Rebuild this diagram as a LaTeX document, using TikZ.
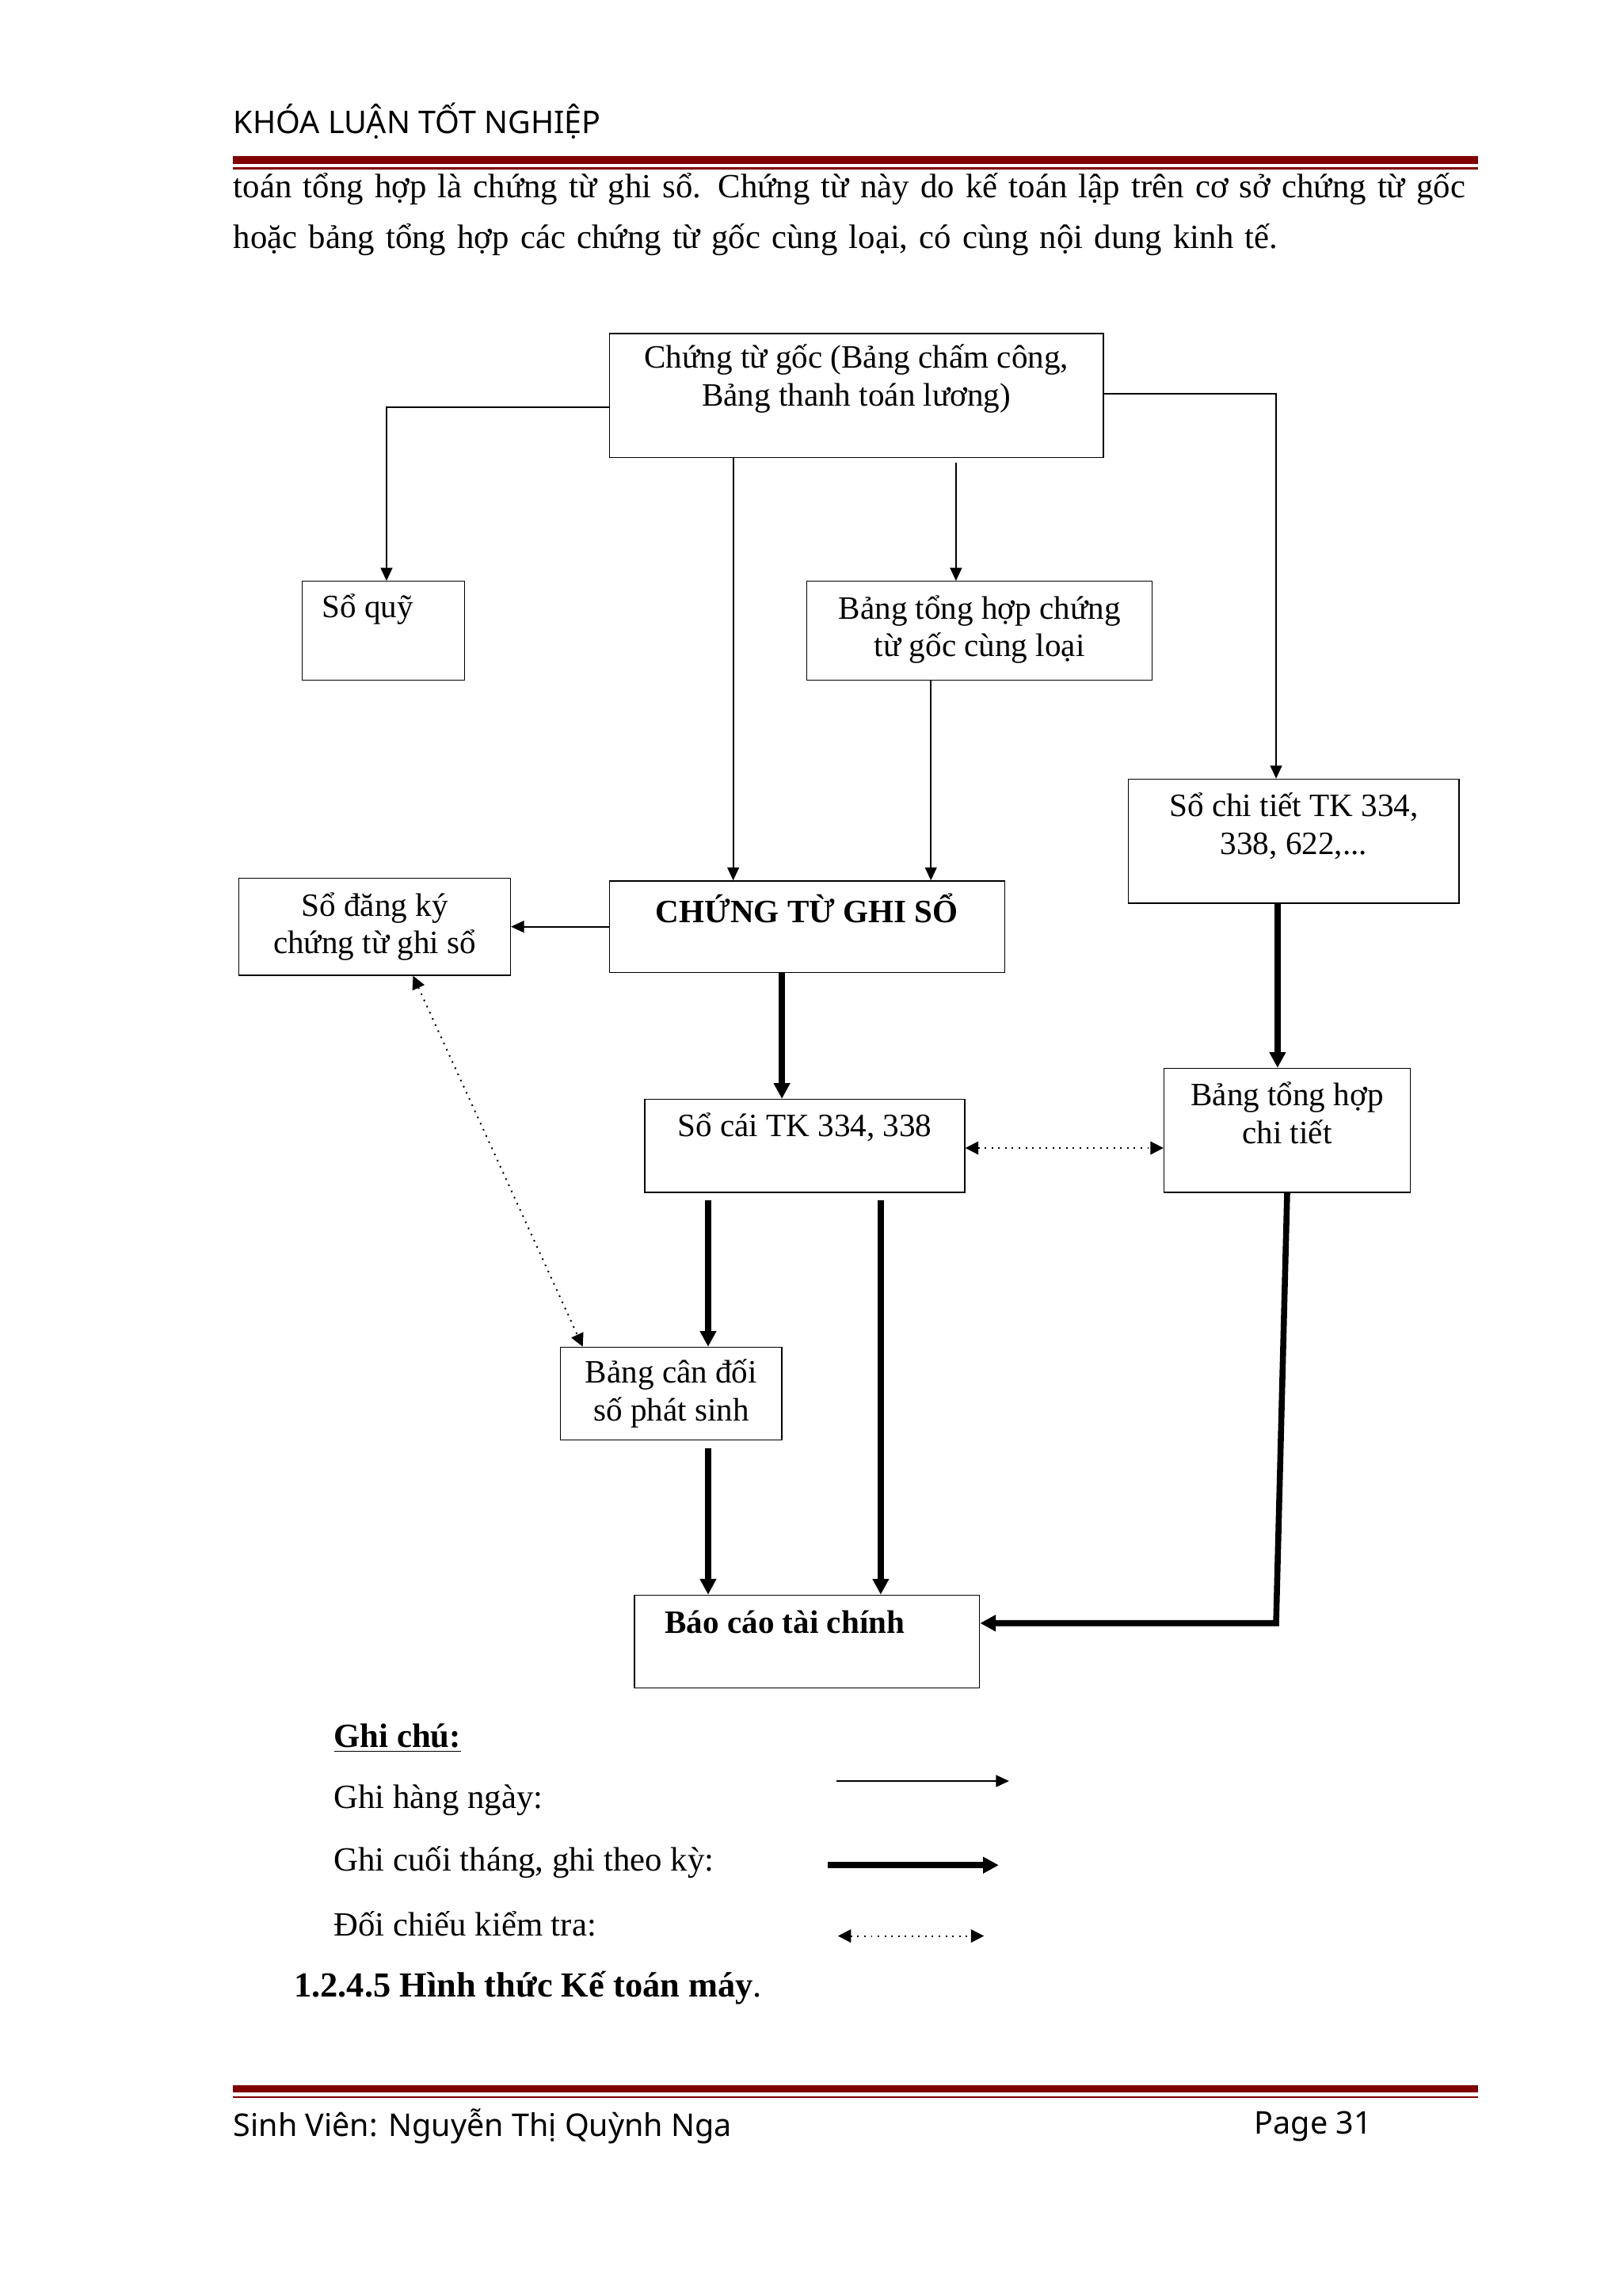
\documentclass[tikz,border=0pt]{standalone}
\usepackage{fontspec}
\setmainfont{Liberation Serif}
\newfontfamily\hdfont{Noto Sans}
\usetikzlibrary{arrows.meta,positioning,calc}
\definecolor{darkred}{RGB}{128,0,0}
\begin{document}
\begin{tikzpicture}[x=0.0199cm,y=-0.0199cm,
	box/.style={draw, thin, rectangle, inner sep=0, font=\fontsize{12.5}{14.5}\selectfont, align=center},
	daily/.style={-{Triangle[length=5pt,width=4.5pt]}, line width=0.6pt},
	period/.style={-{Triangle[length=6pt,width=6pt]}, line width=2.3pt},
	check/.style={{Triangle[length=5pt,width=5pt]}-{Triangle[length=5pt,width=5pt]}, line width=0.6pt, dotted}]
	
	\useasboundingbox (0,0) rectangle (1100,1556);
	
	% Header and text
	\node[anchor=west, inner sep=0, font=\hdfont\fontsize{12}{15}\selectfont] (hd) at (158,82) {KHÓA LUẬN TỐT NGHIỆP};
	\fill[darkred] (158,106) rectangle (1002,111);
	\fill[darkred] (158,113.5) rectangle (1002,115);
	\node[anchor=north west, inner sep=0, text width=844*0.0199cm, font=\fontsize{13}{19.5}\selectfont] (txt) at (158,117)
	{\makebox[\linewidth][s]{toán tổng hợp là chứng từ ghi sổ. Chứng từ này do kế toán lập trên cơ sở chứng từ gốc}\\
	 hoặc bảng tổng hợp các chứng từ gốc cùng loại, có cùng nội dung kinh tế.};
	
	% Boxes
	\node[box, minimum width=335*0.0199cm, minimum height=84*0.0199cm] (goc) at (580.5,268) {};
	\node[box, draw=none, anchor=north] at (580.5,233) {Chứng từ gốc (Bảng chấm công,\\Bảng thanh toán lương)};
	\node[box, minimum width=110*0.0199cm, minimum height=67*0.0199cm] (soquy) at (260,427.5) {};
	\node[anchor=north west, inner sep=0, font=\fontsize{12.5}{14.5}\selectfont] at (218,402) {Sổ quỹ};
	\node[box, minimum width=234*0.0199cm, minimum height=67*0.0199cm] (bangth) at (664,427.5) {};
	\node[anchor=north, inner sep=0, align=center, font=\fontsize{12.5}{14.5}\selectfont] at (664,403) {Bảng tổng hợp chứng\\từ gốc cùng loại};
	\node[box, minimum width=224*0.0199cm, minimum height=84*0.0199cm] (sochitiet) at (877,570) {};
	\node[anchor=north, inner sep=0, align=center, font=\fontsize{12.5}{14.5}\selectfont] at (877,537) {Sổ chi tiết TK 334,\\338, 622,...};
	\node[box, minimum width=268*0.0199cm, minimum height=62*0.0199cm] (ctgs) at (547,628) {};
	\node[anchor=north, inner sep=0, font=\bfseries\fontsize{12.5}{14.5}\selectfont] at (547,605) {CHỨNG TỪ GHI SỔ};
	\node[box, minimum width=184*0.0199cm, minimum height=66*0.0199cm] (sodk) at (254,628) {Sổ đăng ký\\chứng từ ghi sổ};
	\node[box, minimum width=217*0.0199cm, minimum height=63*0.0199cm] (socai) at (545.5,776.5) {};
	\node[anchor=north, inner sep=0, font=\fontsize{12.5}{14.5}\selectfont] at (545.5,754) {Sổ cái TK 334, 338};
	\node[box, minimum width=167*0.0199cm, minimum height=84*0.0199cm] (bangthct) at (872.5,766) {};
	\node[anchor=north, inner sep=0, align=center, font=\fontsize{12.5}{14.5}\selectfont] at (872.5,733) {Bảng tổng hợp\\chi tiết};
	\node[box, minimum width=150*0.0199cm, minimum height=63*0.0199cm] (bcd) at (455,944.5) {Bảng cân đối\\số phát sinh};
	\node[box, minimum width=234*0.0199cm, minimum height=63*0.0199cm] (bctc) at (547,1112.5) {};
	\node[anchor=north, inner sep=0, font=\bfseries\fontsize{12.5}{14.5}\selectfont] at (532,1091) {Báo cáo tài chính};
	
	% Column coordinates
	\coordinate (c262) at (262,0);
	\coordinate (c497) at (497,0);
	\coordinate (c648) at (648,0);
	\coordinate (c865) at (865,0);
	\coordinate (c866) at (866,0);
	\coordinate (c631) at (631,0);
	\coordinate (c530) at (530,0);
	\coordinate (c480) at (480,0);
	\coordinate (c597) at (597,0);
	\coordinate (c280) at (280,0);
	\coordinate (c395) at (395,0);
	\coordinate (r276) at (0,276);
	\coordinate (r267) at (0,267);
	\coordinate (r778) at (0,778);
	\coordinate (r1100) at (0,1100);
	
	% Arrows
	\draw[daily] (goc.west |- r276) -| (soquy.north -| c262);
	\draw[daily] (goc.south -| c497) -- (ctgs.north -| c497);
	\draw[daily] ($(goc.south -| c648)+(0,3)$) -- (bangth.north -| c648);
	\draw[daily] (goc.east |- r267) -| (sochitiet.north -| c865);
	\draw[daily] (bangth.south -| c631) -- (ctgs.north -| c631);
	\draw[daily] (ctgs.west) -- (sodk.east);
	\draw[check] (sodk.south -| c280) -- (bcd.north -| c395);
	\draw[period] (ctgs.south -| c530) -- (socai.north -| c530);
	\draw[period] (sochitiet.south -| c866) -- (bangthct.north -| c866);
	\draw[check] (socai.east |- r778) -- (bangthct.west |- r778);
	\draw[period] ($(socai.south -| c480)+(0,5)$) -- (bcd.north -| c480);
	\draw[period] ($(socai.south -| c597)+(0,5)$) -- (bctc.north -| c597);
	\draw[period] ($(bcd.south -| c480)+(0,5)$) -- (bctc.north -| c480);
	\draw[period] (bangthct.south) -- (c865 |- r1100) -- (bctc.east |- r1100);
	
	% Legend
	\node[anchor=west, inner sep=0, font=\bfseries\fontsize{13}{15}\selectfont] (lg) at (226,1178) {\underline{Ghi chú:}};
	\node[anchor=west, inner sep=0, font=\fontsize{13}{15}\selectfont] (lg1) at (226,1220) {Ghi hàng ngày:};
	\node[anchor=west, inner sep=0, font=\fontsize{13}{15}\selectfont] (lg2) at (226,1262) {Ghi cuối tháng, ghi theo kỳ:};
	\node[anchor=west, inner sep=0, font=\fontsize{13}{15}\selectfont] (lg3) at (226,1304) {Đối chiếu kiểm tra:};
	\coordinate (a1) at (567,1207); \coordinate (b1) at (684,1207);
	\coordinate (a2) at (561,1264); \coordinate (b2) at (677,1264);
	\coordinate (a3) at (568,1312); \coordinate (b3) at (667,1312);
	\draw[daily] (a1) -- (b1);
	\draw[period] (a2) -- (b2);
	\draw[check] (a3) -- (b3);
	\node[anchor=west, inner sep=0, font=\fontsize{13.5}{15}\selectfont] (sec) at (199,1347) {\textbf{1.2.4.5 Hình thức Kế toán máy}.};
	
	% Footer
	\fill[darkred] (158,1413) rectangle (1002,1418);
	\fill[darkred] (158,1420.5) rectangle (1002,1422);
	\node[anchor=west, inner sep=0, font=\hdfont\fontsize{12}{15}\selectfont] (ft) at (158,1441) {Sinh Viên: Nguyễn Thị Quỳnh Nga};
	\node[anchor=west, inner sep=0, font=\hdfont\fontsize{12}{15}\selectfont] (pg) at (850,1441) {Page 31};
\end{tikzpicture}
\end{document}
